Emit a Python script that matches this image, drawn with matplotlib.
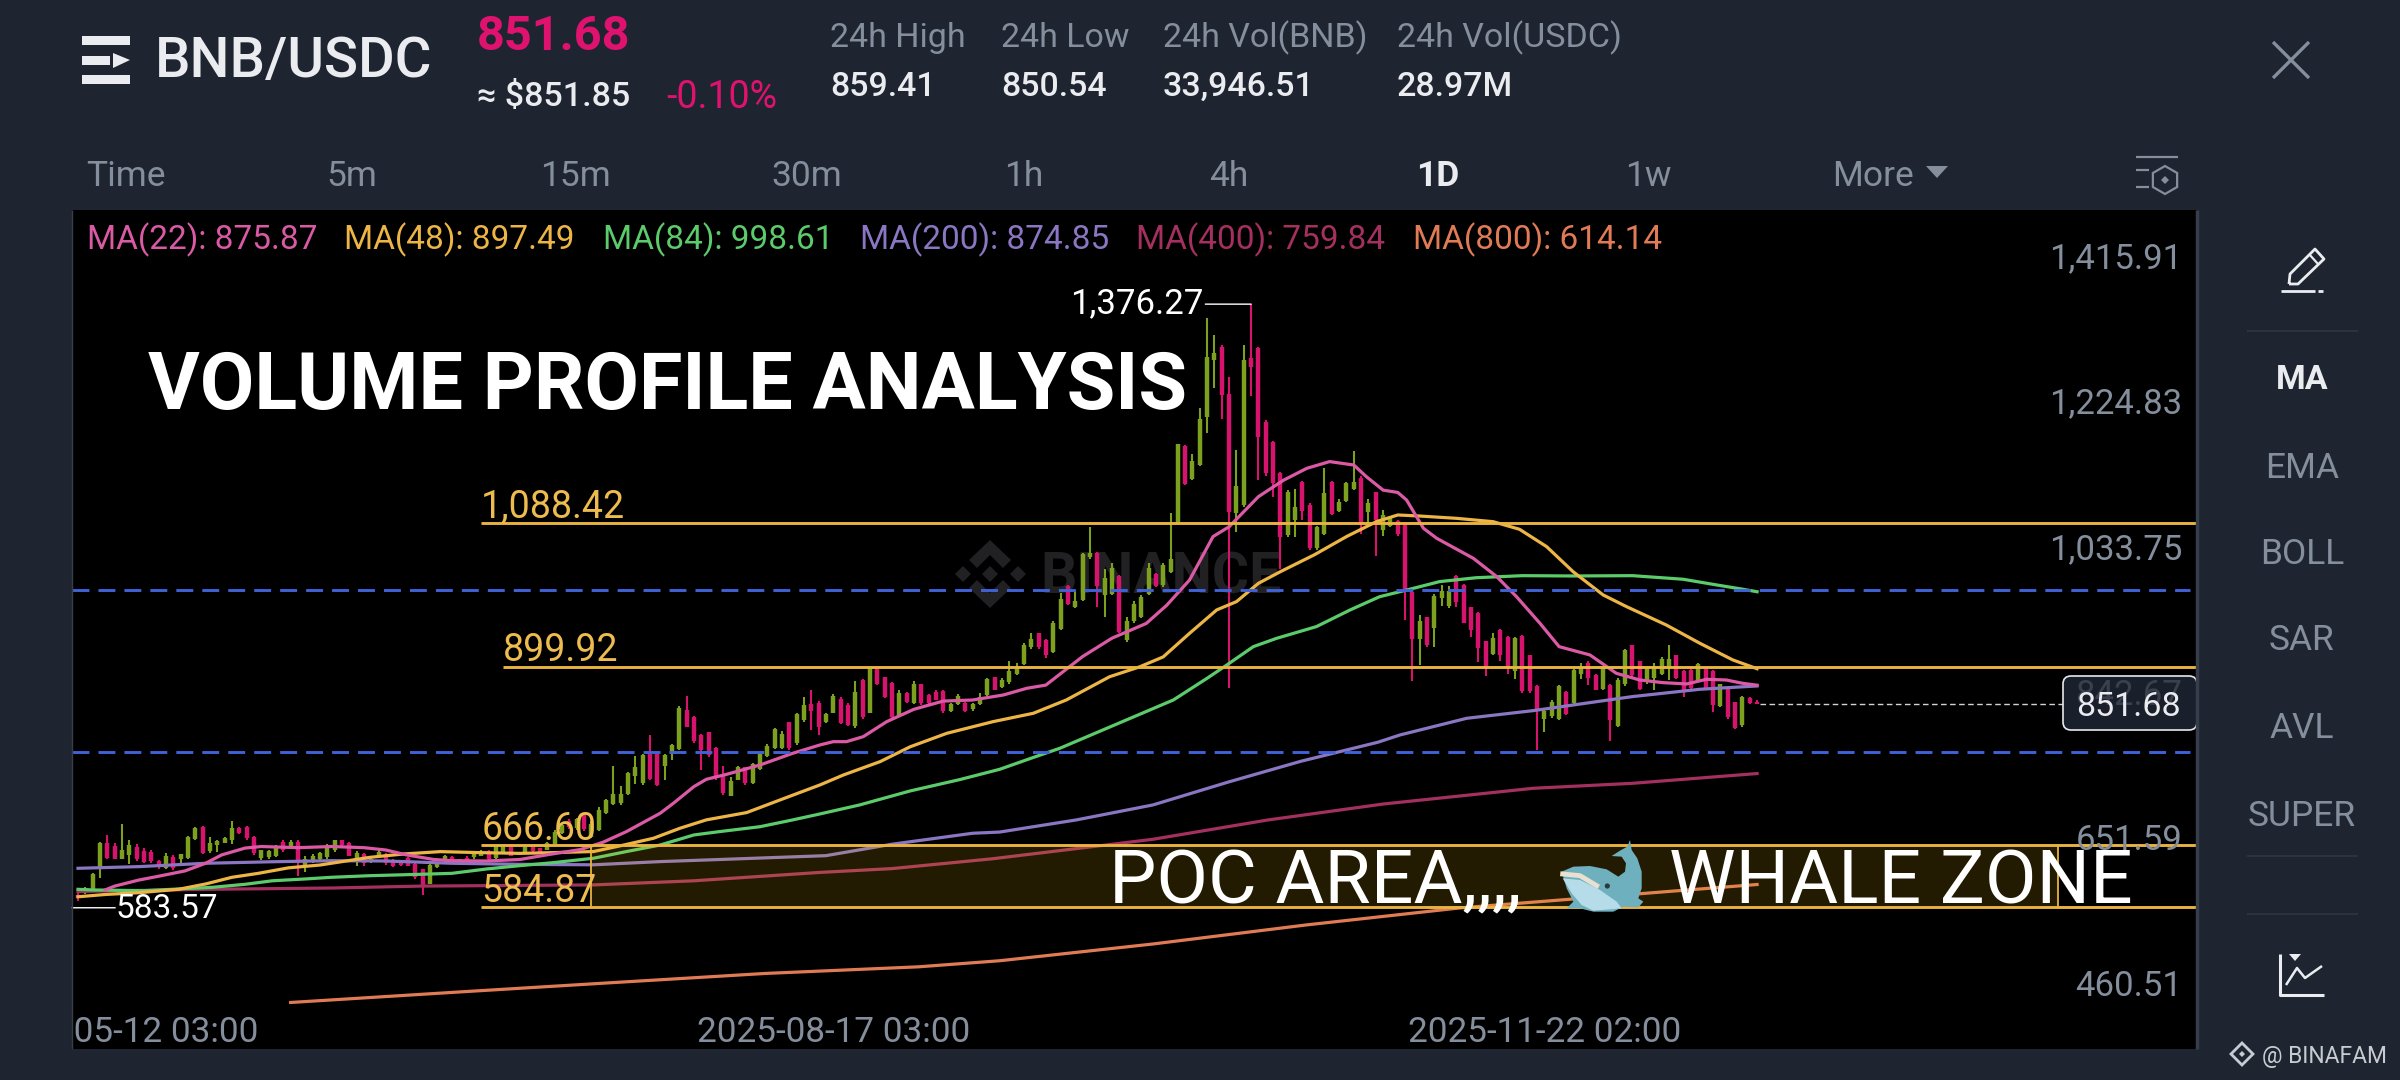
import numpy as np
import matplotlib
matplotlib.use('Agg')
import matplotlib.pyplot as plt
from matplotlib.lines import Line2D
from matplotlib.patches import Rectangle, Polygon, FancyBboxPatch, RegularPolygon, Circle
from matplotlib.transforms import Affine2D, blended_transform_factory

### Daily candles -----------------------------------------------------------
opens = [600,603,607,635,668,665,648,653,664,658,
         657,645,636,650,648,649,674,689,658,666,
         669,673,688,690,676,649,650,652,670,663,
         670,640,646,647,650,660,672,668,645,654,
         645,651,654,646,645,649,641,634,615,637,
         646,650,642,649,650,652,658,649,656,663,
         654,657,663,662,660,667,682,698,688,705,
         677,686,708,720,721,733,757,747,785,785,
         770,785,792,843,834,810,814,794,756,731,
         752,768,748,766,783,793,793,827,800,830,
         851,853,827,840,858,850,822,883,840,897,
         886,879,836,866,853,877,863,867,868,842,
         851,853,844,851,863,886,873,880,891,904,
         926,944,935,920,950,1006,979,988,1044,1050,
         994,996,1019,935,960,966,996,1022,1007,1025,
         1088,1190,1147,1165,1228,1303,1320,1258,1102,1113,
         1305,1319,1222,1195,1155,1073,1093,1143,1113,1056,
         1075,1143,1104,1118,1134,1148,1103,1129,1080,1085,
         1092,1087,998,937,965,951,990,980,1019,1007,
         978,971,934,917,949,939,895,941,916,875,
         832,835,832,867,853,890,905,889,871,876,
         822,877,928,907,880,885,891,898,915,895,
         896,882,897,895,849,874,854,823,859,854]
highs = [603,611,629,670,679,668,694,672,667,662,
         659,646,655,653,654,678,690,691,677,672,
         677,698,689,691,678,660,660,666,673,672,
         672,651,654,657,667,673,673,670,658,655,
         651,659,655,647,646,650,642,635,642,644,
         653,651,648,651,657,660,659,665,665,664,
         657,665,664,662,670,686,693,700,702,708,
         697,716,727,770,743,762,783,786,811,786,
         786,799,848,862,835,812,815,795,770,755,
         770,769,774,789,799,819,816,828,840,860,
         870,855,840,864,860,852,882,884,899,898,
         887,880,869,867,882,878,864,869,870,852,
         864,854,853,865,885,887,885,908,905,931,
         945,945,936,960,997,1007,1001,1049,1084,1051,
         1029,1036,1021,966,986,994,1036,1023,1036,1102,
         1193,1191,1180,1240,1358,1336,1322,1280,1185,1322,
         1376.27,1320,1224,1197,1156,1132,1134,1144,1115,1085,
         1161,1144,1121,1143,1183,1150,1121,1130,1106,1097,
         1093,1088,1001,968,966,995,1007,1006,1020,1009,
         979,972,934,945,950,940,939,942,916,876,
         843,856,876,868,897,905,907,890,899,877,
         885,923,929,908,899,905,913,929,916,896,
         897,905,898,896,878,875,854,862,860,856]
lows = [592,601,606,623,648,647,647,641,645,642,
        643,635,634,633,642,648,673,654,655,657,
        668,667,681,673,653,646,648,650,657,662,
        625,630,642,644,647,657,664,652,639,639,
        643,650,640,637,638,638,622,600,615,636,
        644,642,640,642,648,651,644,647,655,651,
        653,655,657,656,659,667,681,687,686,685,
        675,685,707,719,719,732,746,745,751,744,
        752,778,791,821,800,765,782,751,732,730,
        751,745,746,765,781,792,792,791,797,828,
        817,810,826,839,825,822,819,832,839,876,
        859,832,835,853,851,850,851,856,840,841,
        850,841,842,850,862,870,872,878,889,902,
        924,924,911,918,948,981,977,986,1042,979,
        965,994,944,933,957,964,994,1005,1005,1023,
        1086,1139,1145,1164,1207,1266,1226,872,1077,1110,
        1255,1145,1150,1123,1029,1071,1071,1093,1054,1054,
        1073,1099,1103,1117,1132,1075,1088,1045,1072,1083,
        1072,961,881,902,926,926,980,977,978,957,
        939,906,888,915,908,891,884,866,866,791,
        814,833,830,837,851,884,876,869,870,802,
        821,875,887,870,878,870,889,883,884,860,
        870,880,870,841,847,832,818,821,851,850.54]
closes = [596,610,628,669,649,648,659,666,647,644,
          645,637,652,636,654,677,688,656,668,671,
          675,688,682,675,655,659,658,664,660,670,
          645,648,652,655,664,672,666,652,656,642,
          648,657,643,638,640,639,624,613,640,643,
          651,645,647,645,656,658,647,663,664,652,
          656,663,658,657,668,683,692,689,700,687,
          693,712,725,733,733,760,769,784,753,745,
          784,797,846,821,802,791,784,756,734,750,
          768,748,772,786,796,818,812,793,838,850,
          842,821,838,862,826,823,867,834,898,877,
          860,834,866,854,878,852,852,857,842,851,
          862,842,851,860,884,870,883,895,897,929,
          936,926,915,958,989,982,986,1048,1050,1006,
          1016,1030,946,960,983,992,1030,1006,1034,1042,
          1192,1140,1170,1225,1307,1312,1257,1103,1137,1303,
          1294,1202,1155,1141,1071,1130,1110,1105,1056,1083,
          1128,1101,1117,1142,1143,1088,1115,1093,1100,1095,
          1074,1000,937,960,928,993,1000,1000,985,958,
          948,925,900,938,915,898,938,868,868,843,
          842,854,875,838,896,900,885,870,898,830,
          883,922,889,871,897,900,910,910,885,870,
          872,904,871,850,877,834,820,861,852,851.68]

### Moving averages: candle index and price of the points read ---------------
ma22_idx = [3.7,5,8.3,11,14.6,17.4,19.6,22.8,25,30,34.6,39,42,44.8,48.5,51,55.7,60.3,63.9,68.5,71.6,74.8,79.4,81.2,84,85.7,88.5,93,97.5,101.2,103,104.8,107.1,110.3,114,118,122,126.2,129.4,132,137,141,145.7,148.5,151.6,154.8,157,161,164.4,167.6,170.7,174,175.7,178,180,181.2,183.5,185.3,190.3,193.5,196.2,199.4,202,206.2,209.8,213,216.2,219.4,222.1,224.8,227,229]
ma22_val = [607,612,620,625,632,642,653,662,664,662.5,664,662.5,659.4,653,647,645.4,645,647,653,660,669.6,683.6,707.7,720.8,742.7,752.3,758.9,771,786.5,797.4,801.7,801.7,808.3,828,844.2,855,856.4,863,871.8,876,913.4,937.5,957,981,1014,1071,1084,1123.5,1145,1160.7,1169.5,1165,1149.8,1132,1129,1119,1081.9,1068.8,1042.5,1018.4,992,957,926.5,915.6,891.5,882.7,879.2,877.5,883.6,882.7,878.4,875.87]
ma48_idx = [0,3.7,8.3,13.7,17.4,21,24.6,28.7,33,39.8,44.4,49.4,54.8,60.3,64.8,70.3,73.9,78.5,82.1,85.7,91.2,95.7,101.2,104.4,109.4,113.5,118.5,124.8,130.3,134.8,140.7,144.8,148,151.6,155.3,158,161,164,168.6,173,177.1,180,183,188,193,196.6,200.3,203.9,208,211.2,216.6,221.2,225.7,229]
ma48_val = [598,601,603.4,607.8,614.8,623.6,628.8,636,639.7,649.8,654.2,657.3,656,655,656,657.4,664.8,674.9,688,699,708.6,725,744.9,758,775.5,795,812.7,828,839,856.5,887,900,913,944,974.7,985.6,1009.7,1025,1047,1071,1090.7,1099.4,1098,1095,1090.6,1080.6,1057.8,1025,994.4,979,955,930.9,909,897.49]
ma84_idx = [0,1.9,9,18.3,22.8,26.5,31,34.6,39.8,46.6,51,55.7,60.3,64.8,70.3,74.8,79.4,84,87.5,93,97.5,101.2,106.6,113.5,120.3,125.7,130.3,133.9,149.4,154,156.7,160.3,163.5,168.9,173.5,177.5,181.6,185.7,190.7,197,203.9,212,218.9,223.5,227.1,229]
ma84_val = [607.8,607,606,610.4,614.4,619,621.4,623.6,625.7,627.5,628.8,634.5,638.9,642.8,648.6,657.4,666,679.2,683.6,690,699,706.8,718.6,737,752,765.4,781,793,856.5,885,902.5,926.5,937.5,952.8,974.7,992,1001.8,1011.9,1017,1019.7,1019.3,1019.7,1015,1007.5,1001.8,998.61]
ma200_idx = [0,8.3,17.4,26.5,34.6,42,51,60.3,70.3,79.4,88.5,102,111,122,125.7,136.2,146.6,157,166.8,177.3,180.3,189.4,198.5,203,212,221.2,229]
ma200_val = [635.4,637.6,642,644,645.4,645,642,640.6,640,644.2,647.3,652,667,681.4,683,699,718.6,749,776,801,810.5,832.4,842.5,848.6,860.9,870.5,874.85]
ma400_idx = [0,17.4,34.6,46.6,70.3,84,101.2,111,124.8,146.6,162.3,178,198.5,212,229]
ma400_val = [605,607.8,609.5,612,613.6,619,630,635,648,673.5,698.9,719.8,740.5,747,759.84]
ma800_idx = [29,52,72.8,93.7,114.6,125.7,146.6,167.5,188.4,229]
ma800_val = [459.2,473,485.2,497.3,506,514,536,561,583.3,614.14]

ma_names = ['MA(22): 875.87','MA(48): 897.49','MA(84): 998.61','MA(200): 874.85','MA(400): 759.84','MA(800): 614.14']
ma_colors = ['#DB5AA6','#EDB545','#5CCB6B','#8A76C2','#A3305F','#E07B55']

price_ticks = [1415.91,1224.83,1033.75,842.67,651.59,460.51]
date_idx = [6,103,200]
date_labels = ['2025-05-12 03:00','2025-08-17 03:00','2025-11-22 02:00']

yellow_levels = [1088.42,899.92,666.60,584.87]
yellow_start = [55,58,55,55]
yellow_labels = ['1,088.42','899.92','666.60','584.87']
blue_levels = [1001,788]
last_price = 851.68
top_price = 1376.27
top_idx = 160
low_price = 583.57

tabs = ['Time','5m','15m','30m','1h','4h','1D','1w','More']
tabs_x = [86,326,540,771,1004,1209,1416,1625,1832]
stats_head = ['24h High','24h Low','24h Vol(BNB)','24h Vol(USDC)']
stats_vals = ['859.41','850.54','33,946.51','28.97M']
stats_x = [830,1001,1163,1397]
side_labels = ['MA','EMA','BOLL','SAR','AVL','SUPER']
side_y = [377,465,551,638,725,813]

BG = '#1E2530'
GRAY = '#848E9C'
WHITE = '#EAECEF'
PINK = '#E0126F'
GOLD = '#E8B33E'
UP = '#7DA01E'
DOWN = '#D6146E'
MARK = '#212124'

plt.rcParams['font.family'] = ['Roboto', 'DejaVu Sans']

fig = plt.figure(figsize=(24, 10.8), dpi=100, facecolor=BG)
px = Affine2D().scale(1, -1).translate(0, 1080)

# chart panel
ax = fig.add_axes([72/2400, 31/1080, 2125/2400, 839/1080], facecolor='black')
for s in ax.spines.values():
    s.set_visible(False)
ax.set_xticks([])
ax.set_yticks([])


def ftext(x, y, s, size, color=GRAY, ha='left', weight='normal'):
    fig.text(x, y+3, s, transform=px, fontsize=size, color=color, ha=ha, va='center', fontweight=weight)


def fline(xs, ys, color=GRAY, lw=2.0):
    fig.add_artist(Line2D(xs, ys, transform=px, color=color, lw=lw, solid_capstyle='butt'))


# watermark
ax.text(1040, 578, 'BINANCE', transform=px, fontsize=41, color=MARK, fontweight='bold', va='center', zorder=1)
for cx in [963, 990, 1018]:
    ax.add_patch(RegularPolygon((cx, 574), 4, radius=8, transform=px, fc=MARK, ec='none', zorder=1))
for sgn in [1, -1]:
    chevron = [(990, 574-34*sgn), (1011, 574-14*sgn), (1003, 574-6*sgn), (990, 574-19*sgn), (977, 574-6*sgn), (969, 574-14*sgn)]
    ax.add_patch(Polygon(chevron, transform=px, fc=MARK, ec='none', zorder=1))

# candles
x = np.arange(len(opens))
o = np.array(opens, dtype=float)
c = np.array(closes, dtype=float)
cols = [UP if b >= a else DOWN for a, b in zip(o, c)]
ax.vlines(x, lows, highs, colors=cols, lw=1.5, capstyle='butt', zorder=2)
ax.vlines(x, np.minimum(o, c), np.maximum(o, c), colors=cols, lw=3.2, capstyle='butt', zorder=2)

# moving averages
ma_lines = [(ma22_idx, ma22_val), (ma48_idx, ma48_val), (ma84_idx, ma84_val),
            (ma200_idx, ma200_val), (ma400_idx, ma400_val), (ma800_idx, ma800_val)]
for (mx, my), col in zip(ma_lines[::-1], ma_colors[::-1]):
    ax.plot(mx, my, color=col, lw=2.3, zorder=3, solid_joinstyle='round')

# POC box
ax.add_patch(Rectangle((70, yellow_levels[3]), 200, yellow_levels[2]-yellow_levels[3], fc='#F0B90B', alpha=0.15, ec='none', zorder=4))
ax.vlines([70, 270], yellow_levels[3], yellow_levels[2], colors=GOLD, lw=1.3, zorder=5)

# drawn levels
for lev, st, lab in zip(yellow_levels, yellow_start, yellow_labels):
    ax.hlines(lev, st, 290, colors=GOLD, lw=2.1, zorder=5)
    ax.annotate(lab, xy=(st, lev), xytext=(0, 12 if lev > 700 else 11), textcoords='offset points',
                color='#EDBB4E', fontsize=27, va='center', zorder=6)
for lev in blue_levels:
    ax.plot([-0.8, 288], [lev, lev], color='#3F62D8', lw=2.1, dashes=(5.8, 3.1), dash_capstyle='butt', zorder=5)

# last price line and price scale
ax.hlines(last_price, 229.4, 271, colors='#D0D4DA', lw=1.0, linestyles=(0, (4, 2.5)), zorder=5)
for p in price_ticks:
    ax.annotate(f'{p:,.2f}', xy=(1, p), xycoords=('axes fraction', 'data'), xytext=(-10.5, 11),
                textcoords='offset points', ha='right', va='center', color=GRAY, fontsize=25,
                zorder=6.5 if p == 842.67 else 5, alpha=0.3 if p == 842.67 else 1)
ax.add_patch(FancyBboxPatch((2071, 684), 118, 38, boxstyle='round,pad=8', transform=px, fc='#1A202B', ec='#E6E8EB', lw=1.2, zorder=6))
ax.text(2181, 707, f'{last_price:.2f}', transform=px, color=WHITE, fontsize=24.5, ha='right', va='center', zorder=7)

# high and low marks
ax.annotate(f'{top_price:,.2f}', xy=(top_idx, top_price), xytext=(-34, 0), textcoords='offset points',
            color='white', fontsize=25, ha='right', va='center', zorder=7)
ax.annotate('', xy=(top_idx, top_price), xytext=(-33, 0), textcoords='offset points',
            arrowprops=dict(arrowstyle='-', color='white', lw=1, shrinkA=0, shrinkB=0), zorder=7)
ax.annotate(f'{low_price:.2f}', xy=(-0.8, low_price), xytext=(31, -1), textcoords='offset points',
            color='white', fontsize=24, va='center', zorder=7)
ax.annotate('', xy=(-0.8, low_price), xytext=(31, 0), textcoords='offset points',
            arrowprops=dict(arrowstyle='-', color='white', lw=1, shrinkA=0, shrinkB=0), zorder=7)

# dates, the first one runs off the panel
for i, lab in zip(date_idx, date_labels):
    ax.text(i, 1033, lab, transform=blended_transform_factory(ax.transData, px), color=GRAY,
            fontsize=25.3, ha='center', va='center', clip_on=True, zorder=6)

ax.set_xlim(-0.82, 289.0)
ax.set_ylim(398.1, 1499.9)

# legend row
for name, col, lx in zip(ma_names, ma_colors, [87,344,603,860,1136,1413]):
    ftext(lx, 237, name, 24, col)

# big labels
ftext(148, 384, 'VOLUME PROFILE ANALYSIS', 57, 'white', weight='bold')
ftext(1109, 880, 'POC AREA,,,,', 54, 'white')
ftext(1669, 880, 'WHALE ZONE', 54, 'white')


# whale, outline taken in crop coordinates of the reference
def whale(pts):
    return [(1550+a/3, 830+b/3) for a, b in pts]


fig.add_artist(Polygon(whale([(35,125),(70,110),(120,108),(170,118),(205,140),(225,125),(228,100),(215,80),(185,78),(210,62),(232,50),(240,30),(245,60),(262,85),(275,125),(275,175),(265,205),(280,215),(265,232),(220,230),(190,245),(130,245),(90,235),(50,235),(70,215),(50,175)]),
                       transform=px, fc='#6FB0BE', ec='none', zorder=6))
fig.add_artist(Polygon(whale([(38,145),(90,150),(150,180),(200,215),(215,235),(130,242),(95,225),(65,190)]),
                       transform=px, fc='#B5DCE8', ec='none', zorder=6))
fig.add_artist(Line2D(*zip(*whale([(38,132),(90,137),(140,167)])), transform=px, color='#E8E0D0', lw=3.5, zorder=7))
fig.add_artist(Circle((1550+172/3, 830+168/3), 2.6, transform=px, fc='#2A3A40', ec='none', zorder=7))

# header
for by, bw in [(36, 48), (75, 48)]:
    fig.add_artist(Rectangle((82, by), bw, 9, transform=px, fc=WHITE, ec='none'))
fig.add_artist(Rectangle((82, 56), 28, 9, transform=px, fc=WHITE, ec='none'))
fig.add_artist(Polygon([(113, 53), (130, 60), (113, 68)], transform=px, fc=WHITE, ec='none'))
ftext(155, 59, 'BNB/USDC', 40.5, WHITE, weight='medium')
ftext(477, 34, '851.68', 35, PINK, weight='bold')
ftext(477, 94, '≈ $851.85', 24.5, WHITE, weight='medium')
ftext(666, 94, '-0.10%', 27, PINK)
for hx, h, v in zip(stats_x, stats_head, stats_vals):
    ftext(hx, 35, h, 24.5, GRAY)
    ftext(hx, 84, v, 24.4, WHITE, weight='medium')

# close button
fline([2273, 2309], [42, 78], GRAY, 2.4)
fline([2273, 2309], [78, 42], GRAY, 2.4)

# interval tabs
for tx, tab in zip(tabs_x, tabs):
    if tab == '1D':
        ftext(tx, 173, tab, 25.5, WHITE, weight='bold')
    else:
        ftext(tx, 173, tab, 25.5, GRAY)
fig.add_artist(Polygon([(1926, 166), (1948, 166), (1937, 178)], transform=px, fc=GRAY, ec='none'))
fline([2136, 2178], [157, 157], GRAY, 1.6)
fline([2136, 2149], [170, 170], GRAY, 1.6)
fline([2136, 2149], [187, 187], GRAY, 1.6)
fig.add_artist(RegularPolygon((2165, 180), 6, radius=14, transform=px, fc='none', ec=GRAY, lw=1.6))
fig.add_artist(RegularPolygon((2165, 180), 4, radius=4, transform=px, fc=GRAY, ec='none'))

# side panel
fline([2197, 2197], [210, 1049], '#373E4B', 2.5)
fline([72, 72], [210, 1049], '#373E4B', 1)
for dy in [331, 856, 914]:
    fline([2247, 2358], [dy, dy], '#2F3744', 1.2)
for lab, sy in zip(side_labels, side_y):
    if lab == 'MA':
        fig.text(2302, sy+3, lab, transform=px, fontsize=24.5, color=WHITE, ha='center', va='center', fontweight='bold')
    else:
        fig.text(2302, sy+3, lab, transform=px, fontsize=25.5, color=GRAY, ha='center', va='center')

# pencil icon
fline([2289, 2290, 2315, 2324, 2298, 2289], [284, 274, 249, 259, 284, 284], WHITE, 2.0)
fline([2309, 2318], [254, 264], WHITE, 1.6)
fline([2281, 2315], [291, 291], WHITE, 2.0)
fline([2318, 2323], [291, 291], WHITE, 2.0)

# chart icon
fline([2280, 2280, 2324], [954, 995, 995], WHITE, 2.2)
fline([2286, 2297, 2305, 2322], [985, 968, 978, 966], WHITE, 1.8)
fig.add_artist(Polygon([(2289, 954), (2301, 954), (2295, 961)], transform=px, fc=WHITE, ec='none'))

# footer mark
fig.add_artist(RegularPolygon((2242, 1054), 4, radius=11, transform=px, fc='none', ec='#C8CCD2', lw=2))
fig.add_artist(RegularPolygon((2242, 1054), 4, radius=3, transform=px, fc='#C8CCD2', ec='none'))
ftext(2262, 1053, '@ BINAFAM', 16.5, '#C8CCD2')

fig.savefig('out.png', dpi=100, facecolor=BG)
